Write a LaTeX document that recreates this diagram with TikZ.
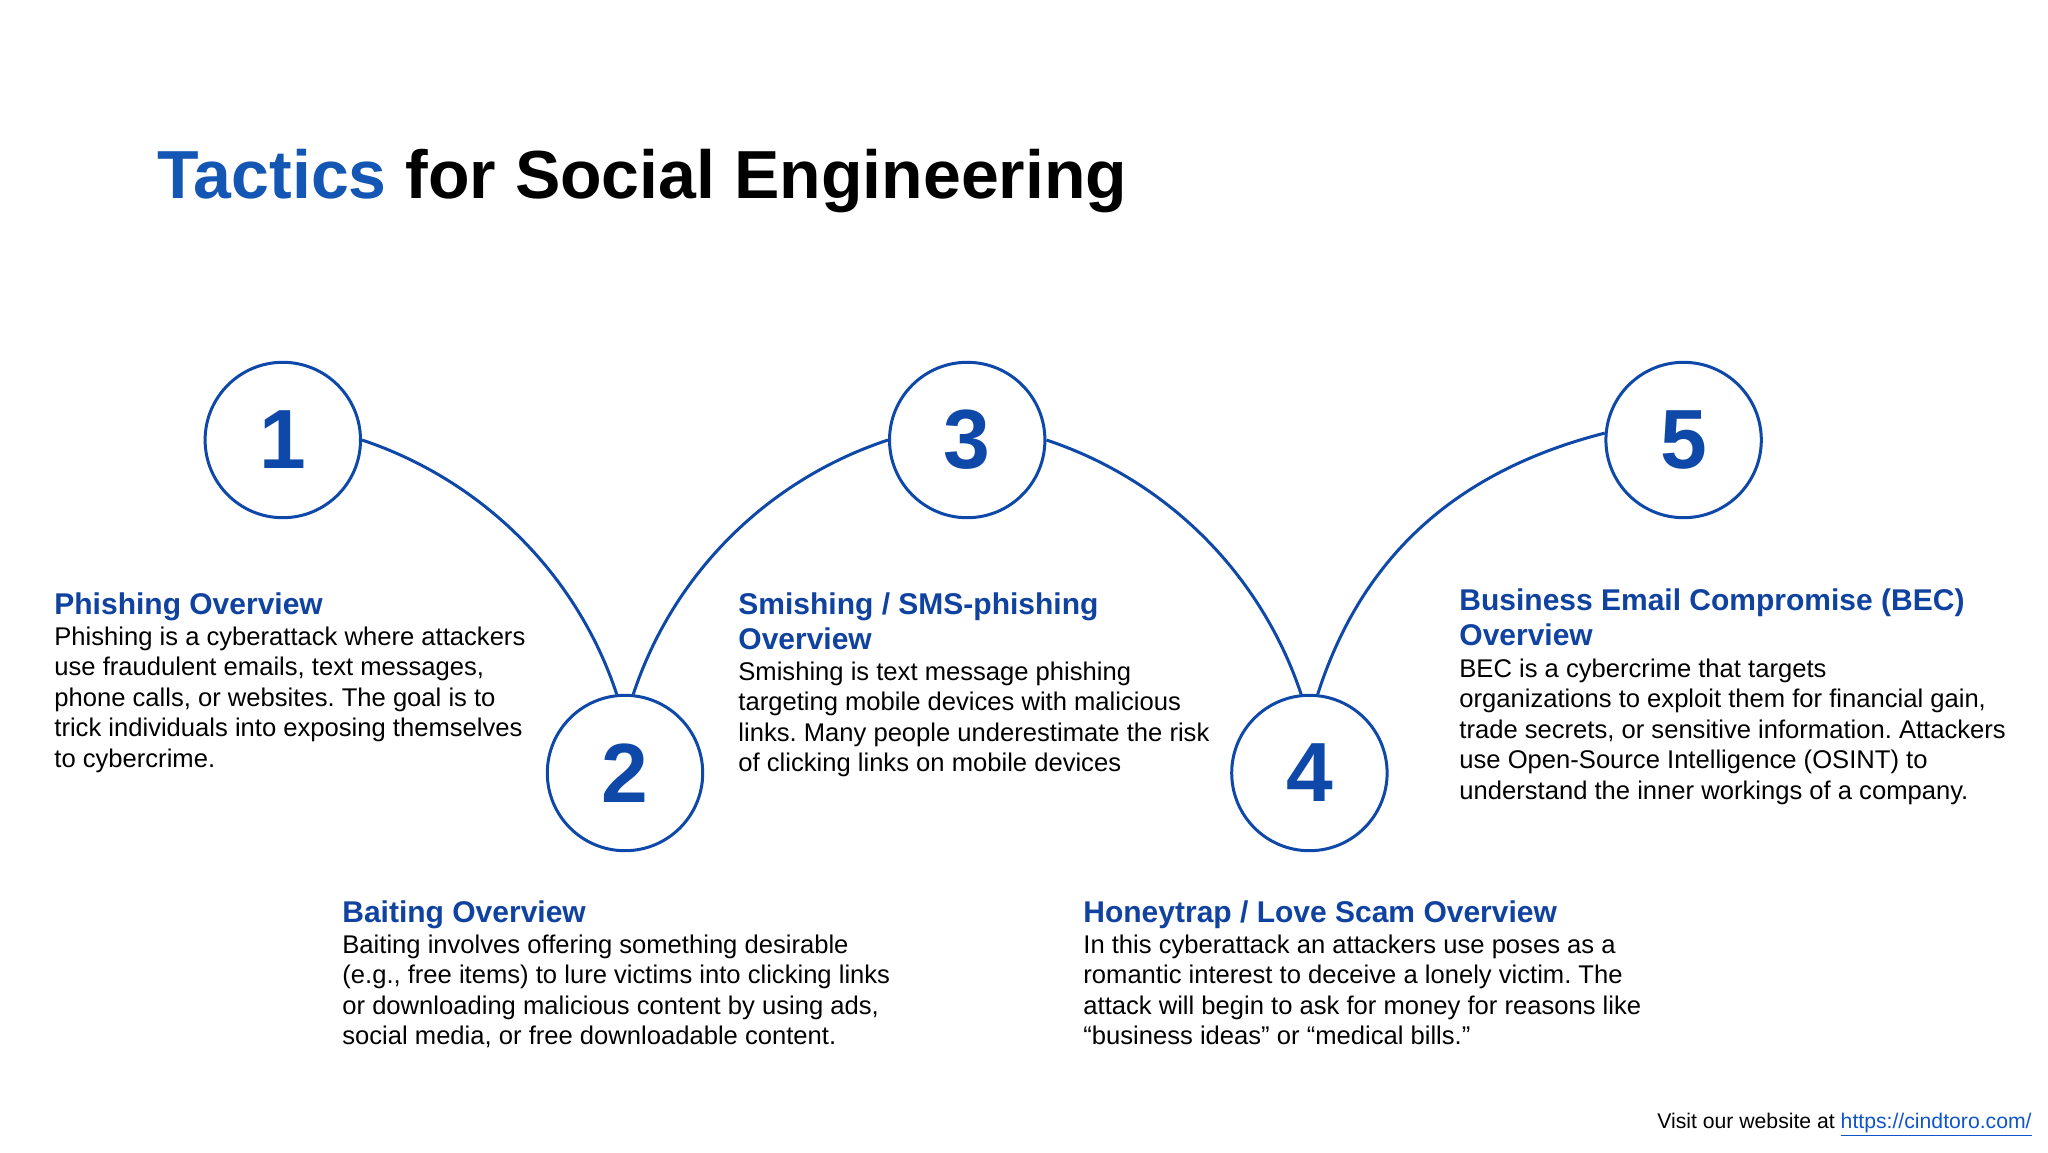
\documentclass[tikz,border=0pt]{standalone}
\usepackage{fontspec}
\setmainfont{Liberation Sans}
\definecolor{titleblue}{RGB}{20,86,180}
\definecolor{headblue}{RGB}{16,66,160}
\definecolor{ringblue}{RGB}{14,72,168}
\definecolor{linkblue}{RGB}{17,85,204}
\frenchspacing
\begin{document}
\frenchspacing
\begin{tikzpicture}[x=0.5pt,y=-0.5pt,
  numcircle/.style={circle, draw=ringblue, line width=1.5pt, minimum size=77.7pt, inner sep=0pt, text=ringblue, font=\fontsize{42}{42}\selectfont\bfseries},
  heading/.style={anchor=base west, inner sep=0pt, align=left, text=headblue, font=\fontsize{15}{17.6}\selectfont\bfseries},
  body/.style={anchor=base west, inner sep=0pt, align=left, font=\fontsize{12.8}{15.3}\selectfont\frenchspacing},
  arcline/.style={draw=ringblue, line width=1.5pt}]
\fill[white] (0,0) rectangle (2048,1152);
\useasboundingbox (0,0) rectangle (2048,1152);

% title
\node[anchor=base west, inner sep=0pt, font=\fontsize{34}{40}\selectfont\bfseries] (title) at (157,198) {\textcolor{titleblue}{Tactics} for Social Engineering};

% circles
\node[numcircle] (c1) at (282.8,440) {1};
\node[numcircle] (c2) at (625,773) {2};
\node[numcircle] (c3) at (967.2,440) {3};
\node[numcircle] (c4) at (1309.4,773) {4};
\node[numcircle] (c5) at (1683.6,440) {5};

% arcs
\draw[arcline] (c1.east) .. controls (482,480) and (577,574) .. (c2.96);
\draw[arcline] (c2.84) .. controls (673,574) and (767,480) .. (c3.west);
\draw[arcline] (c3.east) .. controls (1167,480) and (1261,574) .. (c4.96);
\draw[arcline] (c4.84) .. controls (1363,553) and (1460,470) .. (c5.175);

% (multi-line nodes: base anchor = baseline of last line)
% Phishing
\node[heading] (h1) at (54,614) {Phishing Overview};
\node[body] (b1) at (54,767.4) {Phishing is a cyberattack where attackers\\use fraudulent emails, text messages,\\phone calls, or websites. The goal is to\\trick individuals into exposing themselves\\to cybercrime.};

% Smishing
\node[heading] (h3) at (738,649.2) {Smishing / SMS-phishing\\Overview};
\node[body] (b3) at (738,771.8) {Smishing is text message phishing\\targeting mobile devices with malicious\\links. Many people underestimate the risk\\of clicking links on mobile devices};

% BEC
\node[heading] (h5) at (1459,645.2) {Business Email Compromise (BEC)\\Overview};
\node[body] (b5) at (1459,799.4) {BEC is a cybercrime that targets\\organizations to exploit them for financial gain,\\trade secrets, or sensitive information. Attackers\\use Open-Source Intelligence (OSINT) to\\understand the inner workings of a company.};

% Baiting
\node[heading] (h2) at (342,922) {Baiting Overview};
\node[body] (b2) at (342,1044.8) {Baiting involves offering something desirable\\(e.g., free items) to lure victims into clicking links\\or downloading malicious content by using ads,\\social media, or free downloadable content.};

% Honeytrap
\node[heading] (h4) at (1083,922) {Honeytrap / Love Scam Overview};
\node[body] (b4) at (1083,1044.8) {In this cyberattack an attackers use poses as a\\romantic interest to deceive a lonely victim. The\\attack will begin to ask for money for reasons like\\“business ideas” or “medical bills.”};

% footer
\node[anchor=base east, inner sep=0pt, font=\fontsize{10.6}{12}\selectfont] (footer) at (2032,1128) {Visit our website at \textcolor{linkblue}{\underline{https://cindtoro.com/}}};
\end{tikzpicture}
\end{document}
